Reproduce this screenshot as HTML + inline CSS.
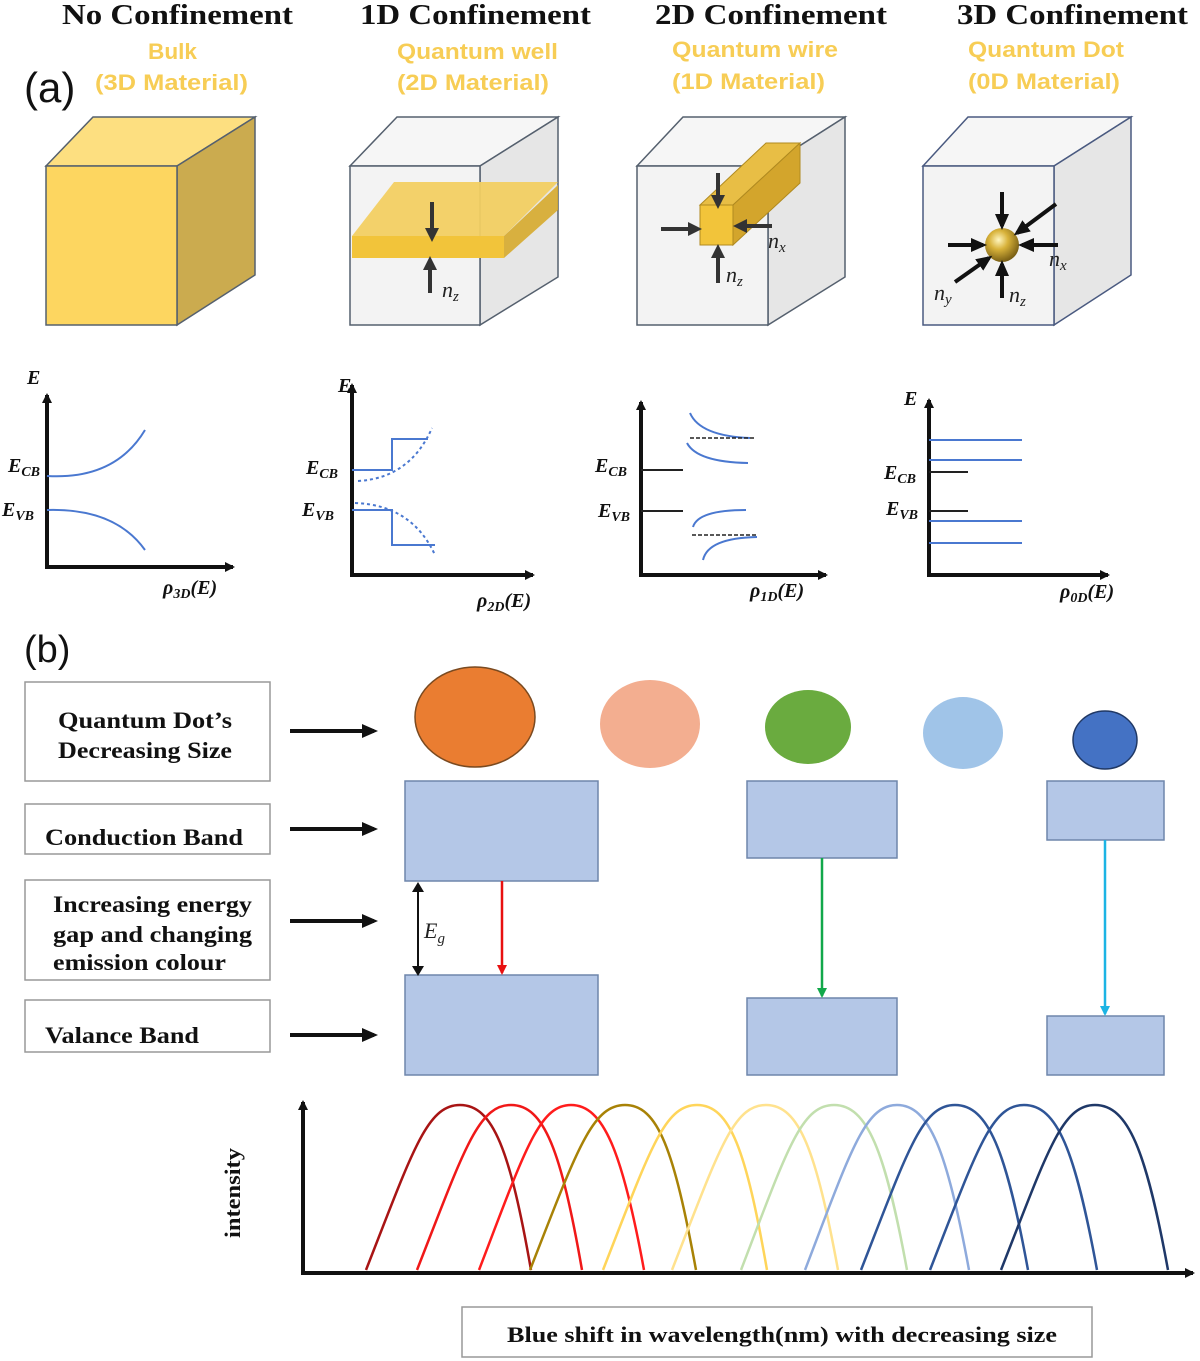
<!DOCTYPE html>
<html><head><meta charset="utf-8"><style>
html,body{margin:0;padding:0;background:#fff;}
svg{display:block;}
.t{font-family:"Liberation Serif",serif;font-weight:bold;font-size:29px;fill:#111;}
.s{font-family:"Liberation Sans",sans-serif;font-weight:bold;font-size:22px;fill:#f7cd55;}
.lb{font-family:"Liberation Serif",serif;font-weight:bold;font-style:italic;font-size:20px;fill:#111;}
.bx{font-family:"Liberation Serif",serif;font-weight:bold;font-size:23px;fill:#111;}
.n{font-family:"Liberation Serif",serif;font-style:italic;font-size:22px;fill:#222;}
</style></head><body>
<svg width="1200" height="1361" viewBox="0 0 1200 1361" xmlns="http://www.w3.org/2000/svg">
<defs>
<marker id="kh" markerWidth="10" markerHeight="10" refX="8" refY="5" orient="auto" markerUnits="userSpaceOnUse"><path d="M0,0 L10,5 L0,10z" fill="#111"/></marker>
<marker id="gh" markerWidth="14" markerHeight="14" refX="10" refY="7" orient="auto" markerUnits="userSpaceOnUse"><path d="M0,0 L14,7 L0,14z" fill="#333"/></marker>
<marker id="bh" markerWidth="16" markerHeight="14" refX="12" refY="7" orient="auto" markerUnits="userSpaceOnUse"><path d="M0,0 L16,7 L0,14z" fill="#111"/></marker>
<marker id="rh" markerWidth="10" markerHeight="10" refX="8" refY="5" orient="auto" markerUnits="userSpaceOnUse"><path d="M0,0 L10,5 L0,10z" fill="#e81010"/></marker>
<marker id="grh" markerWidth="10" markerHeight="10" refX="8" refY="5" orient="auto" markerUnits="userSpaceOnUse"><path d="M0,0 L10,5 L0,10z" fill="#12a84a"/></marker>
<marker id="ch" markerWidth="10" markerHeight="10" refX="8" refY="5" orient="auto" markerUnits="userSpaceOnUse"><path d="M0,0 L10,5 L0,10z" fill="#1cb4e4"/></marker>
<radialGradient id="gold" cx="0.4" cy="0.35" r="0.7"><stop offset="0" stop-color="#fff6c0"/><stop offset="0.4" stop-color="#d8b23a"/><stop offset="1" stop-color="#6e5510"/></radialGradient>
</defs>

<!-- titles -->
<text class="t" x="62" y="24" textLength="231" lengthAdjust="spacingAndGlyphs">No Confinement</text>
<text class="t" x="360" y="24" textLength="231" lengthAdjust="spacingAndGlyphs">1D Confinement</text>
<text class="t" x="655" y="24" textLength="232" lengthAdjust="spacingAndGlyphs">2D Confinement</text>
<text class="t" x="957" y="24" textLength="231" lengthAdjust="spacingAndGlyphs">3D Confinement</text>
<text class="s" x="148" y="59" textLength="49" lengthAdjust="spacingAndGlyphs">Bulk</text>
<text class="s" x="95" y="90" textLength="153" lengthAdjust="spacingAndGlyphs">(3D Material)</text>
<text class="s" x="397" y="59" textLength="161" lengthAdjust="spacingAndGlyphs">Quantum well</text>
<text class="s" x="397" y="90" textLength="152" lengthAdjust="spacingAndGlyphs">(2D Material)</text>
<text class="s" x="672" y="57" textLength="166" lengthAdjust="spacingAndGlyphs">Quantum wire</text>
<text class="s" x="672" y="89" textLength="153" lengthAdjust="spacingAndGlyphs">(1D Material)</text>
<text class="s" x="968" y="57" textLength="156" lengthAdjust="spacingAndGlyphs">Quantum Dot</text>
<text class="s" x="968" y="89" textLength="152" lengthAdjust="spacingAndGlyphs">(0D Material)</text>
<text x="24" y="102" font-family="Liberation Sans,sans-serif" font-size="42" fill="#111">(a)</text>

<!-- cube 1 -->
<g stroke="#55606e" stroke-width="1.5">
<polygon points="46,166 93,117 255,117 177,166" fill="#fddf80"/>
<polygon points="177,166 255,117 255,275 177,325" fill="#cbab4f"/>
<rect x="46" y="166" width="131" height="159" fill="#fdd660"/>
</g>
<!-- cube 2 -->
<g stroke="#55606e" stroke-width="1.5">
<polygon points="350,166 397,117 558,117 480,166" fill="#f6f6f6"/>
<polygon points="480,166 558,117 558,277 480,325" fill="#e6e6e6"/>
<rect x="350" y="166" width="130" height="159" fill="#f3f3f3"/>
</g>
<polygon points="352,236 394,182 558,182 504,236" fill="#f2cf62" opacity="0.95"/>
<polygon points="504,236 558,185 558,210 504,258" fill="#d6aa2c" opacity="0.9"/>
<rect x="352" y="236" width="152" height="22" fill="#f2c43a"/>
<line x1="432" y1="202" x2="432" y2="238" stroke="#333" stroke-width="4" marker-end="url(#gh)"/>
<line x1="430" y1="293" x2="430" y2="260" stroke="#333" stroke-width="4" marker-end="url(#gh)"/>
<text class="n" x="442" y="297">n<tspan font-size="15" dy="4">z</tspan></text>
<!-- cube 3 -->
<g stroke="#55606e" stroke-width="1.5">
<polygon points="637,166 683,117 845,117 768,166" fill="#f6f6f6"/>
<polygon points="768,166 845,117 845,277 768,325" fill="#e6e6e6"/>
<rect x="637" y="166" width="131" height="159" fill="#f3f3f3"/>
</g>
<polygon points="700,205 766,143 800,143 733,205" fill="#e8be45" stroke="#b08a20"/>
<polygon points="733,205 800,143 800,183 733,245" fill="#d3a52c" stroke="#b08a20"/>
<rect x="700" y="205" width="33" height="40" fill="#f2c43a" stroke="#b08a20"/>
<line x1="718" y1="173" x2="718" y2="205" stroke="#333" stroke-width="4" marker-end="url(#gh)"/>
<line x1="718" y1="283" x2="718" y2="248" stroke="#333" stroke-width="4" marker-end="url(#gh)"/>
<line x1="661" y1="229" x2="698" y2="229" stroke="#333" stroke-width="4" marker-end="url(#gh)"/>
<line x1="772" y1="226" x2="737" y2="226" stroke="#333" stroke-width="4" marker-end="url(#gh)"/>
<text class="n" x="768" y="248">n<tspan font-size="15" dy="4">x</tspan></text>
<text class="n" x="726" y="282">n<tspan font-size="15" dy="4">z</tspan></text>
<!-- cube 4 -->
<g stroke="#4a5a80" stroke-width="1.5">
<polygon points="923,166 968,117 1131,117 1054,166" fill="#f6f6f6"/>
<polygon points="1054,166 1131,117 1131,275 1054,325" fill="#e6e6e6"/>
<rect x="923" y="166" width="131" height="159" fill="#f3f3f3"/>
</g>
<circle cx="1002" cy="245" r="17" fill="url(#gold)"/>
<g stroke="#111" stroke-width="4">
<line x1="1002" y1="192" x2="1002" y2="226" marker-end="url(#bh)"/>
<line x1="1002" y1="298" x2="1002" y2="264" marker-end="url(#bh)"/>
<line x1="948" y1="245" x2="983" y2="245" marker-end="url(#bh)"/>
<line x1="1058" y1="245" x2="1022" y2="245" marker-end="url(#bh)"/>
<line x1="1056" y1="204" x2="1017" y2="233" marker-end="url(#bh)"/>
<line x1="955" y1="282" x2="989" y2="258" marker-end="url(#bh)"/>
</g>
<text class="n" x="1049" y="266">n<tspan font-size="15" dy="4">x</tspan></text>
<text class="n" x="1009" y="302">n<tspan font-size="15" dy="4">z</tspan></text>
<text class="n" x="934" y="300">n<tspan font-size="15" dy="4">y</tspan></text>

<!-- graphs -->
<g stroke="#111" stroke-width="4" fill="none">
<line x1="47" y1="567" x2="47" y2="395" marker-end="url(#kh)"/>
<line x1="45" y1="567" x2="233" y2="567" marker-end="url(#kh)"/>
<line x1="352" y1="575" x2="352" y2="385" marker-end="url(#kh)"/>
<line x1="350" y1="575" x2="533" y2="575" marker-end="url(#kh)"/>
<line x1="641" y1="575" x2="641" y2="402" marker-end="url(#kh)"/>
<line x1="639" y1="575" x2="826" y2="575" marker-end="url(#kh)"/>
<line x1="929" y1="575" x2="929" y2="400" marker-end="url(#kh)"/>
<line x1="927" y1="575" x2="1108" y2="575" marker-end="url(#kh)"/>
</g>
<text class="lb" x="27" y="384" font-size="18">E</text>
<text class="lb" x="338" y="392" font-size="18">E</text>
<text class="lb" x="904" y="405" font-size="18">E</text>
<text class="lb" x="8" y="472">E<tspan font-size="14" dy="4">CB</tspan></text>
<text class="lb" x="2" y="516">E<tspan font-size="14" dy="4">VB</tspan></text>
<text class="lb" x="306" y="474">E<tspan font-size="14" dy="4">CB</tspan></text>
<text class="lb" x="302" y="516">E<tspan font-size="14" dy="4">VB</tspan></text>
<text class="lb" x="595" y="472">E<tspan font-size="14" dy="4">CB</tspan></text>
<text class="lb" x="598" y="517">E<tspan font-size="14" dy="4">VB</tspan></text>
<text class="lb" x="884" y="479">E<tspan font-size="14" dy="4">CB</tspan></text>
<text class="lb" x="886" y="515">E<tspan font-size="14" dy="4">VB</tspan></text>
<text class="lb" x="163" y="594">ρ<tspan font-size="14" dy="4">3D</tspan><tspan dy="-4">(E)</tspan></text>
<text class="lb" x="477" y="607">ρ<tspan font-size="14" dy="4">2D</tspan><tspan dy="-4">(E)</tspan></text>
<text class="lb" x="750" y="597">ρ<tspan font-size="14" dy="4">1D</tspan><tspan dy="-4">(E)</tspan></text>
<text class="lb" x="1060" y="598">ρ<tspan font-size="14" dy="4">0D</tspan><tspan dy="-4">(E)</tspan></text>
<g stroke="#4a78d0" stroke-width="2" fill="none">
<path d="M47,476 Q115,480 145,430"/>
<path d="M47,510 Q115,508 145,550"/>
<path d="M352,470 H392 V439 H428"/>
<path d="M352,510 H392 V545 H435"/>
<path d="M358,481 Q410,478 432,428" stroke-dasharray="3,3"/>
<path d="M355,503 Q412,505 435,555" stroke-dasharray="3,3"/>
<path d="M690,413 Q700,436 750,438"/>
<path d="M687,443 Q697,462 748,463"/>
<path d="M693,527 Q698,510 746,510"/>
<path d="M703,560 Q708,538 757,537"/>
<path d="M929,440 H1022 M929,460 H1022 M929,521 H1022 M929,543 H1022"/>
</g>
<g stroke="#222" stroke-width="2" fill="none">
<path d="M641,470 H683 M641,511 H683 M929,472 H968 M929,511 H968"/>
<path d="M690,438 H755 M692,535 H757" stroke-dasharray="4,2" stroke-width="1.6"/>
</g>

<!-- (b) -->
<text x="24" y="662" font-family="Liberation Sans,sans-serif" font-size="38" fill="#111">(b)</text>
<g fill="#fff" stroke="#999" stroke-width="1.5">
<rect x="25" y="682" width="245" height="99"/>
<rect x="25" y="804" width="245" height="50"/>
<rect x="25" y="880" width="245" height="100"/>
<rect x="25" y="1000" width="245" height="52"/>
</g>
<text class="bx" x="58" y="728" textLength="174" lengthAdjust="spacingAndGlyphs">Quantum Dot’s</text>
<text class="bx" x="58" y="758" textLength="174" lengthAdjust="spacingAndGlyphs">Decreasing Size</text>
<text class="bx" x="45" y="845" textLength="198" lengthAdjust="spacingAndGlyphs">Conduction Band</text>
<text class="bx" x="53" y="912" textLength="199" lengthAdjust="spacingAndGlyphs">Increasing energy</text>
<text class="bx" x="53" y="942" textLength="199" lengthAdjust="spacingAndGlyphs">gap and changing</text>
<text class="bx" x="53" y="970" textLength="173" lengthAdjust="spacingAndGlyphs">emission colour</text>
<text class="bx" x="45" y="1043" textLength="154" lengthAdjust="spacingAndGlyphs">Valance Band</text>
<g stroke="#111" stroke-width="4">
<line x1="290" y1="731" x2="374" y2="731" marker-end="url(#bh)"/>
<line x1="290" y1="829" x2="374" y2="829" marker-end="url(#bh)"/>
<line x1="290" y1="921" x2="374" y2="921" marker-end="url(#bh)"/>
<line x1="290" y1="1035" x2="374" y2="1035" marker-end="url(#bh)"/>
</g>
<ellipse cx="475" cy="717" rx="60" ry="50" fill="#ea7d31" stroke="#7a4a20" stroke-width="1.5"/>
<ellipse cx="650" cy="724" rx="50" ry="44" fill="#f3ae90"/>
<ellipse cx="808" cy="727" rx="43" ry="37" fill="#6aab3f"/>
<ellipse cx="963" cy="733" rx="40" ry="36" fill="#a0c4e8"/>
<ellipse cx="1105" cy="740" rx="32" ry="29" fill="#4472c4" stroke="#203864" stroke-width="1.5"/>
<g fill="#b4c7e7" stroke="#6f86ab" stroke-width="1.5">
<rect x="405" y="781" width="193" height="100"/>
<rect x="405" y="975" width="193" height="100"/>
<rect x="747" y="781" width="150" height="77"/>
<rect x="747" y="998" width="150" height="77"/>
<rect x="1047" y="781" width="117" height="59"/>
<rect x="1047" y="1016" width="117" height="59"/>
</g>
<line x1="502" y1="881" x2="502" y2="973" stroke="#e81010" stroke-width="2.5" marker-end="url(#rh)"/>
<line x1="822" y1="858" x2="822" y2="996" stroke="#12a84a" stroke-width="2.5" marker-end="url(#grh)"/>
<line x1="1105" y1="840" x2="1105" y2="1014" stroke="#1cb4e4" stroke-width="2.5" marker-end="url(#ch)"/>
<line x1="418" y1="890" x2="418" y2="968" stroke="#111" stroke-width="2"/>
<path d="M412,892 L418,882 L424,892z M412,966 L418,976 L424,966z" fill="#111"/>
<text class="n" x="424" y="938" font-size="22">E<tspan font-size="15" dy="5">g</tspan></text>

<!-- spectrum -->
<g stroke="#111" stroke-width="4" fill="none">
<line x1="303" y1="1275" x2="303" y2="1102" marker-end="url(#kh)"/>
<line x1="301" y1="1273" x2="1193" y2="1273" marker-end="url(#kh)"/>
</g>
<text transform="translate(240,1193) rotate(-90)" font-family="Liberation Serif,serif" font-weight="bold" font-size="22" fill="#111" text-anchor="middle" textLength="90" lengthAdjust="spacingAndGlyphs">intensity</text>
<g fill="none" stroke-width="2.5">
<path stroke="#a81414" d="M366,1270 C413,1150 427,1105 460,1105 S510,1150 531,1270"/>
<path stroke="#f01818" d="M417,1270 C464,1150 478,1105 511,1105 S561,1150 582,1270"/>
<path stroke="#ff1c1c" d="M479,1270 C525,1150 539,1105 571,1105 S622,1150 644,1270"/>
<path stroke="#a88206" d="M530,1270 C577,1150 592,1105 625,1105 S674,1150 696,1270"/>
<path stroke="#ffd55a" d="M603,1270 C650,1150 664,1105 697,1105 S746,1150 767,1270"/>
<path stroke="#ffe28e" d="M672,1270 C719,1150 733,1105 766,1105 S816,1150 838,1270"/>
<path stroke="#c2dfae" d="M741,1270 C787,1150 801,1105 834,1105 S885,1150 907,1270"/>
<path stroke="#8eaadc" d="M805,1270 C851,1150 865,1105 897,1105 S947,1150 969,1270"/>
<path stroke="#2f5597" d="M861,1270 C908,1150 922,1105 955,1105 S1006,1150 1028,1270"/>
<path stroke="#2f5597" d="M930,1270 C977,1150 991,1105 1024,1105 S1075,1150 1097,1270"/>
<path stroke="#1f3868" d="M1001,1270 C1048,1150 1062,1105 1095,1105 S1146,1150 1168,1270"/>
</g>
<rect x="462" y="1307" width="630" height="50" fill="#fff" stroke="#999" stroke-width="1.5"/>
<text x="507" y="1342" font-family="Liberation Serif,serif" font-weight="bold" font-size="22" fill="#111" textLength="550" lengthAdjust="spacingAndGlyphs">Blue shift in wavelength(nm) with decreasing size</text>
</svg>
</body></html>
